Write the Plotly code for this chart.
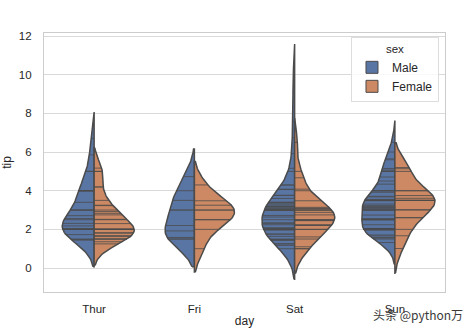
import numpy as np
import plotly.graph_objects as go

days = ["Thur", "Fri", "Sat", "Sun"]
sexes = ["Male", "Female"]

thur_male = [4.0, 3.0, 2.71, 3.0, 3.4, 5.0, 2.03, 2.0, 4.0, 5.85, 3.0, 2.31, 2.5, 2.0, 1.48,
             2.18, 1.5, 2.0, 6.7, 5.0, 1.73, 2.0, 2.56, 2.02, 4.0, 1.44, 2.0, 2.0, 4.0, 4.0]
thur_female = [1.83, 5.17, 1.5, 1.8, 2.92, 1.68, 2.52, 4.2, 2.0, 2.0, 2.83, 1.5, 2.0, 3.25, 1.25,
               2.0, 2.0, 2.75, 3.5, 5.0, 2.3, 1.5, 1.36, 1.63, 4.19, 5.0, 2.0, 2.01, 2.0, 2.5,
               3.23, 3.0]
fri_male = [3.0, 3.5, 4.73, 4.0, 1.5, 3.0, 1.5, 2.2, 1.92, 1.58]
fri_female = [1.0, 4.3, 3.25, 2.5, 3.0, 3.48, 3.0, 2.5, 2.0]
sat_male = [3.35, 4.08, 7.58, 3.18, 2.34, 2.0, 2.0, 4.3, 1.45, 2.5, 3.27, 3.6, 2.0, 2.31, 5.0,
            2.24, 3.0, 1.76, 6.73, 3.21, 2.0, 1.98, 3.76, 2.64, 3.15, 2.01, 2.09, 1.97, 1.25,
            3.08, 1.64, 4.06, 4.29, 3.76, 3.0, 10.0, 3.16, 3.41, 3.0, 2.03, 2.0, 5.16, 9.0,
            3.0, 1.5, 1.44, 3.0, 2.72, 2.0, 3.0, 3.39, 1.47, 3.0, 1.25, 1.0, 1.17, 5.92, 2.0,
            1.75]
sat_female = [2.75, 2.23, 3.0, 3.0, 2.45, 3.07, 1.5, 2.47, 1.0, 3.0, 3.14, 5.0, 2.2, 2.5, 3.48,
              4.08, 4.0, 1.0, 1.61, 2.0, 2.23, 2.5, 6.5, 1.1, 3.09, 2.88, 4.67, 2.0]
sun_male = [1.66, 3.5, 3.31, 4.71, 2.0, 3.12, 1.96, 3.23, 1.71, 1.57, 3.0, 3.92, 3.71, 2.54,
            3.06, 1.32, 5.6, 3.0, 5.0, 6.0, 2.05, 3.0, 2.5, 1.56, 4.34, 3.51, 4.0, 2.55, 5.07,
            2.5, 2.0, 2.74, 2.0, 2.0, 5.0, 2.0, 3.5, 2.5, 2.0, 3.48, 2.24, 4.5, 5.15, 3.18,
            4.0, 3.11, 2.0, 2.0, 3.55, 3.68, 5.65, 3.5, 6.5, 3.0, 5.0, 2.0, 4.0, 1.5]
sun_female = [1.01, 3.61, 5.0, 3.02, 1.67, 3.5, 2.6, 5.2, 4.0, 3.5, 5.14, 3.75, 2.61, 2.0, 3.0,
              4.0, 3.5, 3.5]

tips = {
    "Thur": {"Male": thur_male, "Female": thur_female},
    "Fri": {"Male": fri_male, "Female": fri_female},
    "Sat": {"Male": sat_male, "Female": sat_female},
    "Sun": {"Male": sun_male, "Female": sun_female},
}

colors = {"Male": "#5975a4", "Female": "#cc8963"}
gray = "#4b4b4b"
half_width = 0.4
cut = 2
gridsize = 100


def kde(values):
    v = np.asarray(values, float)
    n = len(v)
    bw = n ** (-1 / 5) * v.std(ddof=1)
    support = np.linspace(v.min() - cut * bw, v.max() + cut * bw, gridsize)
    dens = np.exp(-0.5 * ((support[:, None] - v[None, :]) / bw) ** 2).sum(axis=1)
    dens /= (n * bw * np.sqrt(2 * np.pi))
    return support, dens


fig = go.Figure()

for i, day in enumerate(days):
    res = {s: kde(tips[day][s]) for s in sexes}
    mx = max(res[s][1].max() for s in sexes)
    for s in sexes:
        support, dens = res[s]
        d = dens / mx * half_width
        sign = -1 if s == "Male" else 1
        xs = list(i + sign * d) + [i, i, i + sign * d[0]]
        ys = list(support) + [support[-1], support[0], support[0]]
        fig.add_trace(go.Scatter(
            x=xs, y=ys, mode="lines", fill="toself", fillcolor=colors[s],
            line=dict(color=gray, width=1.5), showlegend=False, hoverinfo="skip"))
        # sticks
        vals = np.asarray(tips[day][s], float)
        h = np.interp(vals, support, d)
        sx, sy = [], []
        for v, hh in zip(vals, h):
            sx += [i + sign * hh, i, None]
            sy += [v, v, None]
        fig.add_trace(go.Scatter(
            x=sx, y=sy, mode="lines", line=dict(color=gray, width=0.8),
            showlegend=False, hoverinfo="skip"))

for s in sexes:
    fig.add_trace(go.Bar(x=[None], y=[None], name=s,
                         marker=dict(color=colors[s], line=dict(color=gray, width=1))))

font_family = "Liberation Sans, Arial, DejaVu Sans, sans-serif"

fig.update_layout(
    width=474, height=333,
    margin=dict(l=44, r=29, t=33, b=41),
    paper_bgcolor="white", plot_bgcolor="white",
    font=dict(family=font_family, size=11.5, color="#262626"),
    showlegend=True,
    legend=dict(
        title=dict(text="sex", side="top center", font=dict(size=11.5)),
        x=0.985, y=0.985, xanchor="right", yanchor="top",
        bgcolor="rgba(255,255,255,0.8)", bordercolor="#dddddd", borderwidth=1,
        font=dict(size=12), itemwidth=30, tracegroupgap=0,
    ),
    xaxis=dict(
        range=[-0.5, 3.5], tickmode="array", tickvals=list(range(len(days))), ticktext=days,
        showgrid=False, zeroline=False, showline=True, mirror=True, automargin=False,
        linecolor="#cccccc", linewidth=1.25, ticks="", ticklabelstandoff=6,
        title=dict(text="day", standoff=2, font=dict(size=12)),
    ),
    yaxis=dict(
        range=[-1.24, 12.16], tickmode="array", tickvals=[0, 2, 4, 6, 8, 10, 12],
        showgrid=True, gridcolor="#d9d9d9", gridwidth=1, zeroline=False, automargin=False,
        showline=True, mirror=True, linecolor="#cccccc", linewidth=1.25, ticks="",
        ticklabelstandoff=9,
        title=dict(text="tip", standoff=4, font=dict(size=12)),
    ),
    annotations=[dict(
        text="头条 @python万", xref="paper", yref="paper", x=1.05, y=-0.085,
        xanchor="right", yanchor="middle", showarrow=False,
        font=dict(family="Noto Sans CJK SC", size=12, color="#3a3a3a"),
    )],
)

fig.write_html("out.html")
